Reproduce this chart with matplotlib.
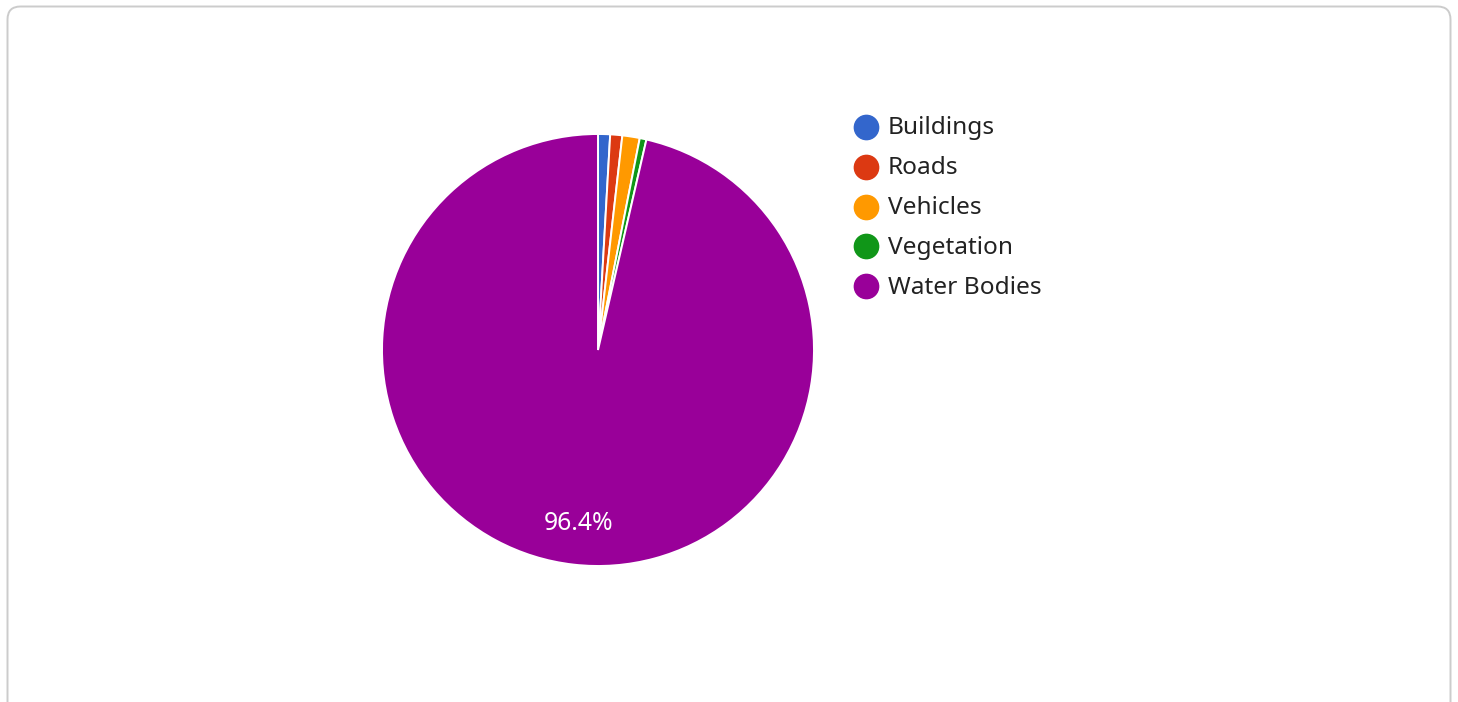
import matplotlib.pyplot as plt
from matplotlib.patches import FancyBboxPatch

labels = ['Buildings', 'Roads', 'Vehicles', 'Vegetation', 'Water Bodies']
shares = [0.9, 0.9, 1.3, 0.5, 96.4]
colors = ['#3366cc', '#dc3912', '#ff9900', '#109618', '#990099']

plt.rcParams['font.family'] = ['Noto Sans', 'DejaVu Sans']

W, H = 1458, 702
fig = plt.figure(figsize=(W / 100, H / 100), dpi=100)

# overlay in pixel coordinates for the frame and legend
bg = fig.add_axes([0, 0, 1, 1])
bg.set_xlim(0, W)
bg.set_ylim(H, 0)
bg.axis('off')
frame = FancyBboxPatch((7.5, 6.5), 1443, 760, boxstyle='round,pad=0,rounding_size=13',
                       fc='white', ec='#cccccc', lw=1.4)
bg.add_patch(frame)

# pie: centre (598, 350), radius 216 px
cx, cy, r = 598, 350, 216
ax = fig.add_axes([(cx - r) / W, (H - cy - r) / H, 2 * r / W, 2 * r / H])
wedges, texts, autotexts = ax.pie(
    shares, colors=colors, startangle=90, counterclock=False,
    autopct=lambda p: f'{p:.1f}%' if p > 5 else '', pctdistance=0.81,
    wedgeprops=dict(edgecolor='white', linewidth=1.4),
    textprops=dict(color='white', fontsize=17.8))
ax.set_xlim(-1, 1)
ax.set_ylim(-1, 1)
ax.set_aspect('auto')

for i, (lab, col) in enumerate(zip(labels, colors)):
    y = 127 + i * 39.75
    bg.scatter([866], [y], s=17.5 ** 2, color=col, zorder=3)
    bg.text(888, y + 1.5, lab, fontsize=17.6, color='#222222', va='center', ha='left')

fig.savefig('out.png', dpi=100)
